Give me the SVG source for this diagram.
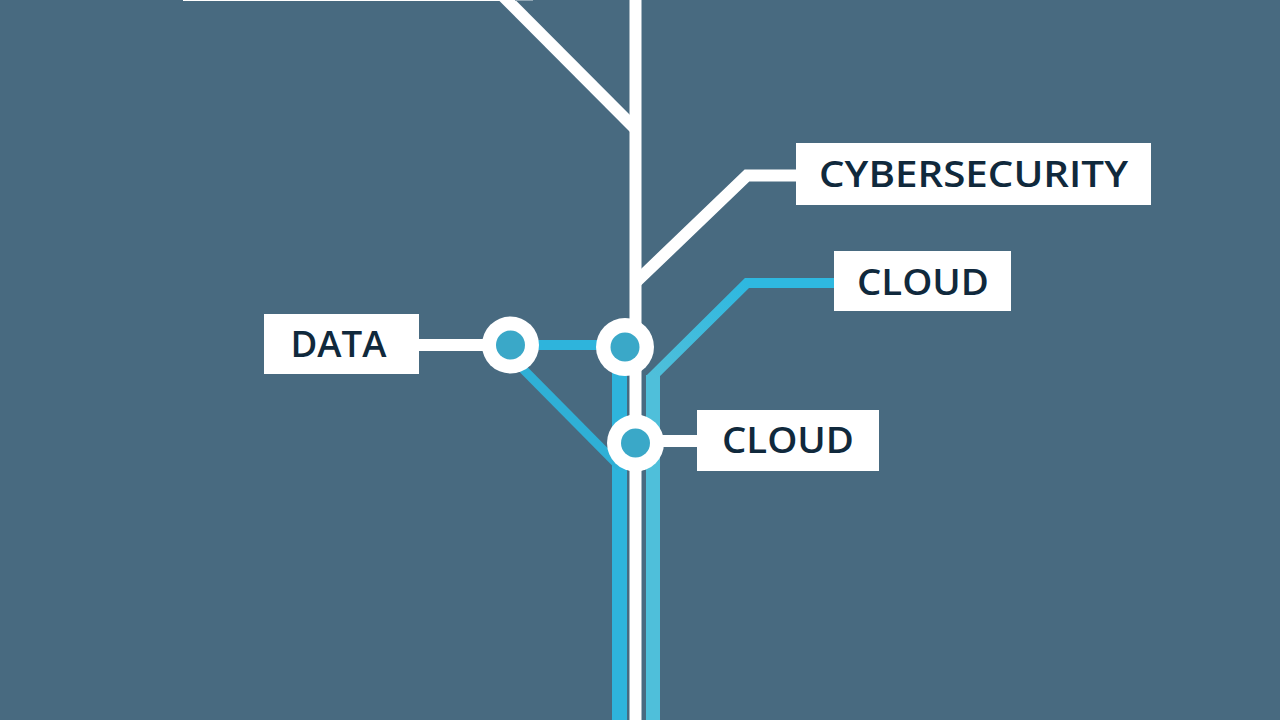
<svg xmlns="http://www.w3.org/2000/svg" width="1280" height="720" viewBox="0 0 1280 720">
<defs>
<linearGradient id="diag" gradientUnits="userSpaceOnUse" x1="653" y1="375" x2="747" y2="283"><stop offset="0" stop-color="#4fbfda"/><stop offset="1" stop-color="#2eb8e0"/></linearGradient>
</defs>
<style>
.w{fill:none;stroke:#fff;stroke-width:12}
.box{fill:#fff}
.t{font-family:"Open Sans","Noto Sans",sans-serif;font-weight:600;font-size:36px;fill:#10293c;text-anchor:middle}
.ring{fill:#fff}
.dot{fill:#3aa8c8}
</style>
<rect width="1280" height="720" fill="#486a80"/>
<g id="connectors">
<path d="M619.500 370V720" fill="none" stroke="#2eb4dc" stroke-width="15"/>
<path d="M653 720V375" fill="none" stroke="#4fbfda" stroke-width="14"/>
<path d="M650 379L747 283H835" fill="none" stroke="url(#diag)" stroke-width="10"/>
<path d="M538 345H600" fill="none" stroke="#2eb4dc" stroke-width="10"/>
<path d="M523 369L620 467" fill="none" stroke="#2fb0d6" stroke-width="9"/>
<path class="w" d="M635.500 0V720"/>
<path class="w" d="M503 -4L635.500 129"/>
<path class="w" d="M636 282L747 175.500H800"/>
<path class="w" d="M415 345H490"/>
<path class="w" d="M660 441H700"/>
</g>
<g id="node-top"><rect x="515" y="-10" width="18" height="11" fill="#8fa5b3"/><rect class="box" x="183" y="-10" width="325" height="11"/></g>
<g id="node-cybersecurity"><rect class="box" x="796" y="143" width="355" height="62"/><text class="t" x="973.500" y="187" textLength="309" lengthAdjust="spacingAndGlyphs">CYBERSECURITY</text></g>
<g id="node-cloud-upper"><rect class="box" x="834" y="251" width="177" height="60"/><text class="t" x="923" y="295" textLength="132" lengthAdjust="spacingAndGlyphs">CLOUD</text></g>
<g id="node-cloud-lower"><rect class="box" x="697" y="410" width="182" height="61"/><text class="t" x="788" y="453" textLength="132" lengthAdjust="spacingAndGlyphs">CLOUD</text></g>
<g id="node-data"><rect class="box" x="264" y="314" width="155" height="60"/><text class="t" x="338.500" y="357" textLength="96" lengthAdjust="spacingAndGlyphs">DATA</text></g>
<g id="junction-left"><circle class="ring" cx="510.500" cy="345" r="28.500"/><circle class="dot" cx="510.500" cy="345" r="14.500"/></g>
<g id="junction-mid"><circle class="ring" cx="625" cy="347" r="29"/><circle class="dot" cx="625" cy="347" r="14.500"/></g>
<g id="junction-low"><circle class="ring" cx="635.500" cy="443" r="28.500"/><circle class="dot" cx="635.500" cy="443" r="14.500"/></g>
</svg>
